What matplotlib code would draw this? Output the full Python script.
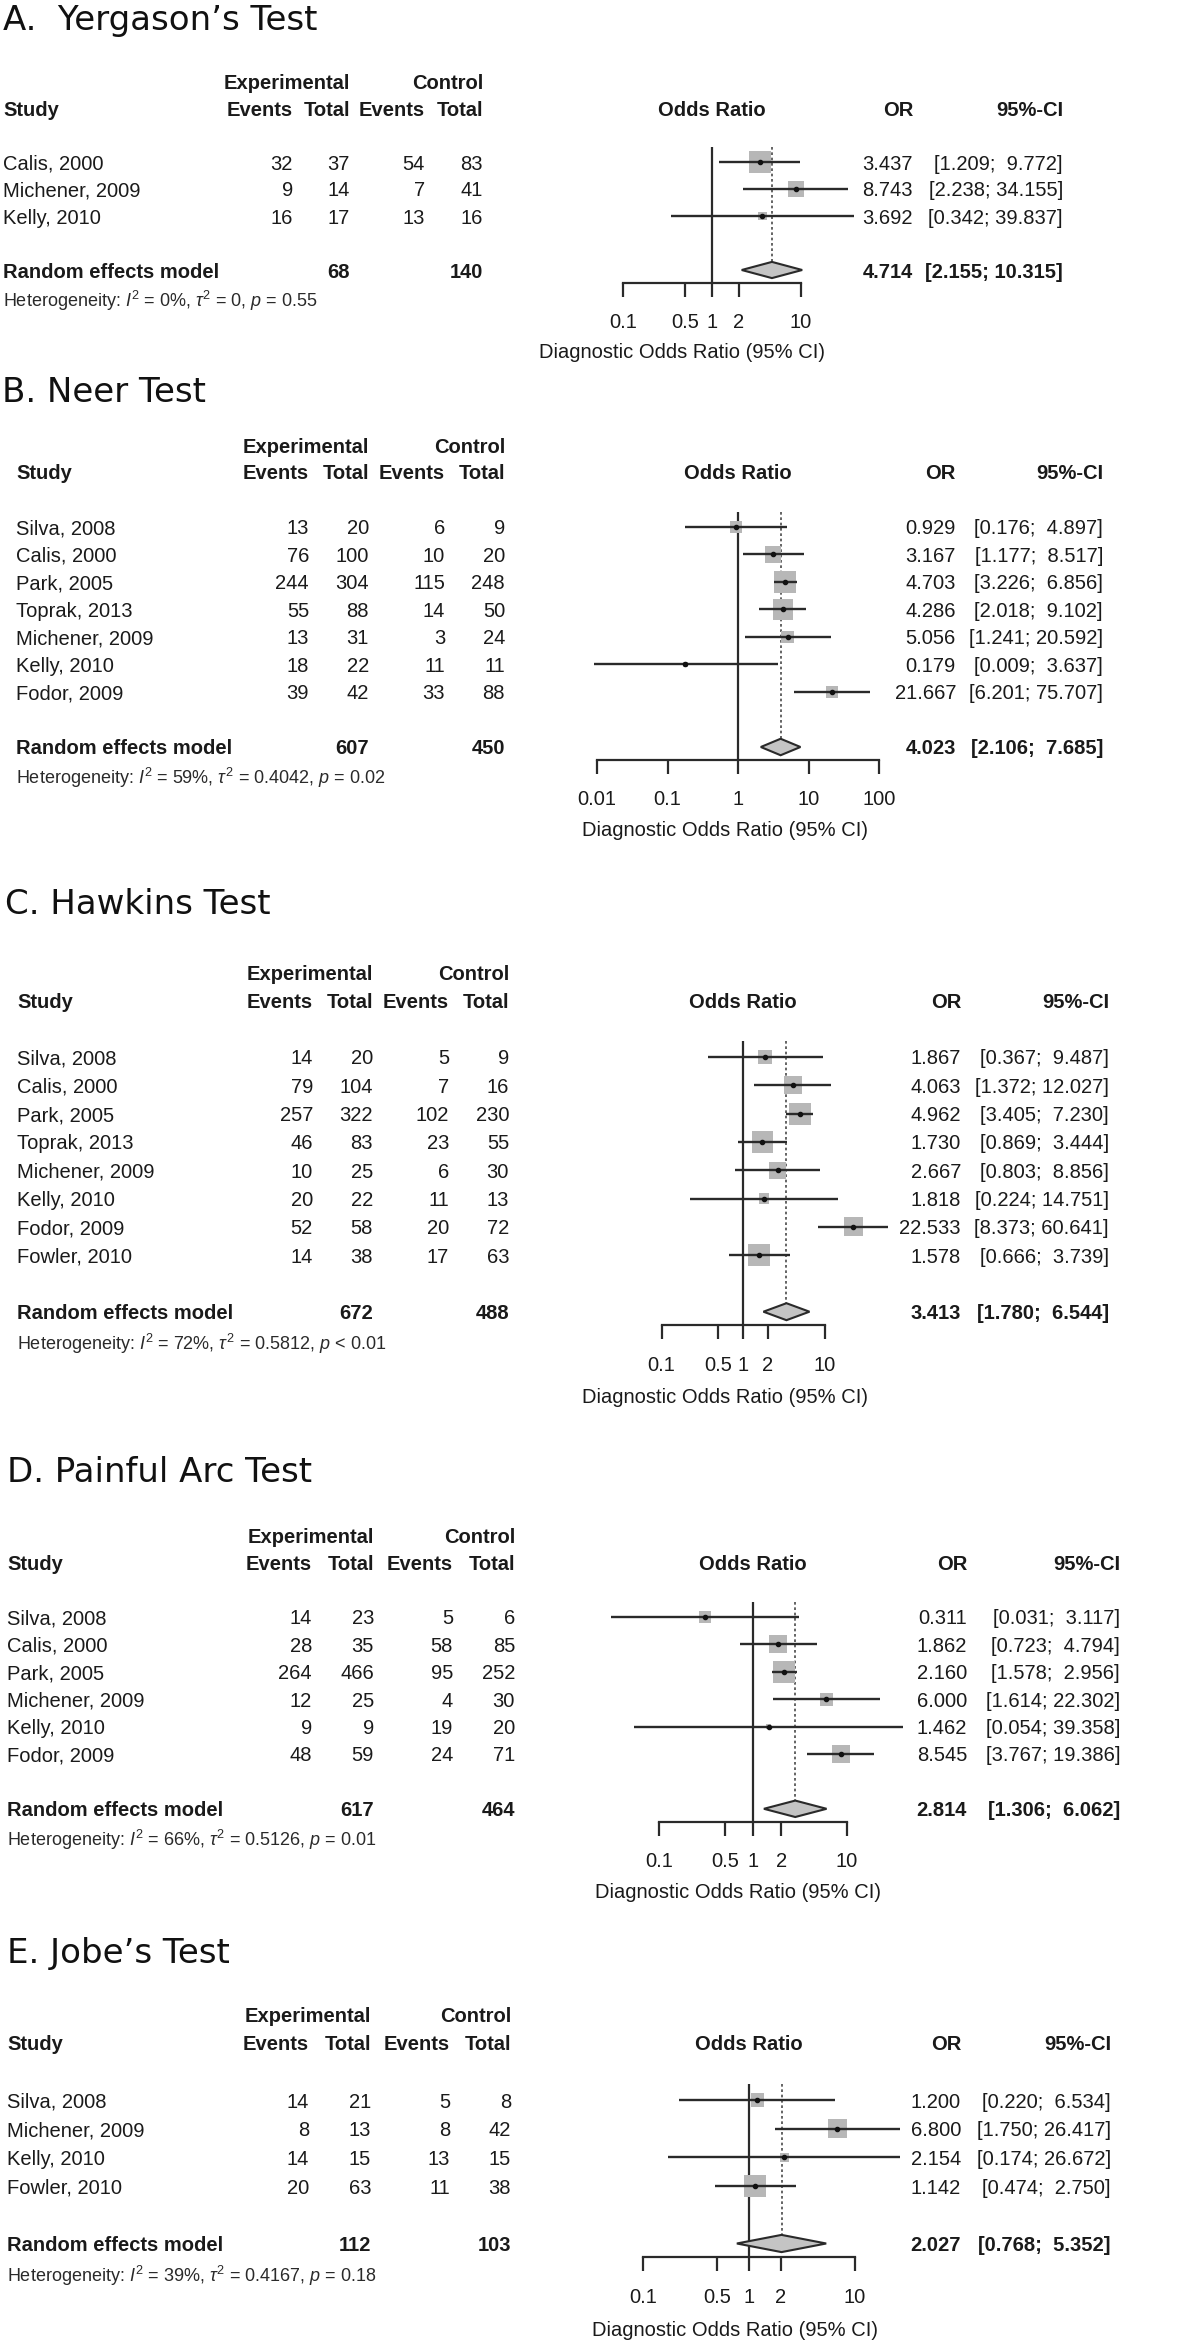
import matplotlib
matplotlib.use("Agg")
import matplotlib.pyplot as plt
import matplotlib.transforms as mtrans
from matplotlib.patches import Polygon
from matplotlib.ticker import NullLocator
import numpy as np

plt.rcParams['font.family'] = ['Liberation Sans', 'DejaVu Sans']
plt.rcParams['mathtext.fontset'] = 'custom'
plt.rcParams['mathtext.rm'] = 'Liberation Sans'
plt.rcParams['mathtext.it'] = 'Liberation Sans:italic'
plt.rcParams['mathtext.bf'] = 'Liberation Sans:bold'

# ---------------- DATA ----------------
# A. Yergason's Test
A_title = "A.  Yergason\u2019s Test"
A_studies = ["Calis, 2000", "Michener, 2009", "Kelly, 2010"]
A_exp_events = [32, 9, 16]
A_exp_total = [37, 14, 17]
A_ctl_events = [54, 7, 13]
A_ctl_total = [83, 41, 16]
A_or = [3.437, 8.743, 3.692]
A_lo = [1.209, 2.238, 0.342]
A_hi = [9.772, 34.155, 39.837]
A_weight = [59, 32, 9]
A_summary = [4.714, 2.155, 10.315]
A_totals = [68, 140]
A_het = ["0%", "0", "= 0.55"]
A_ticks = [0.1, 0.5, 1, 2, 10]
A_ticklabels = ["0.1", "0.5", "1", "2", "10"]

# B. Neer Test
B_title = "B. Neer Test"
B_studies = ["Silva, 2008", "Calis, 2000", "Park, 2005", "Toprak, 2013",
             "Michener, 2009", "Kelly, 2010", "Fodor, 2009"]
B_exp_events = [13, 76, 244, 55, 13, 18, 39]
B_exp_total = [20, 100, 304, 88, 31, 22, 42]
B_ctl_events = [6, 10, 115, 14, 3, 11, 33]
B_ctl_total = [9, 20, 248, 50, 24, 11, 88]
B_or = [0.929, 3.167, 4.703, 4.286, 5.056, 0.179, 21.667]
B_lo = [0.176, 1.177, 3.226, 2.018, 1.241, 0.009, 6.201]
B_hi = [4.897, 8.517, 6.856, 9.102, 20.592, 3.637, 75.707]
B_weight = [9, 16, 30, 25, 10, 1.5, 9]
B_summary = [4.023, 2.106, 7.685]
B_totals = [607, 450]
B_het = ["59%", "0.4042", "= 0.02"]
B_ticks = [0.01, 0.1, 1, 10, 100]
B_ticklabels = ["0.01", "0.1", "1", "10", "100"]

# C. Hawkins Test
C_title = "C. Hawkins Test"
C_studies = ["Silva, 2008", "Calis, 2000", "Park, 2005", "Toprak, 2013",
             "Michener, 2009", "Kelly, 2010", "Fodor, 2009", "Fowler, 2010"]
C_exp_events = [14, 79, 257, 46, 10, 20, 52, 14]
C_exp_total = [20, 104, 322, 83, 25, 22, 58, 38]
C_ctl_events = [5, 7, 102, 23, 6, 11, 20, 17]
C_ctl_total = [9, 16, 230, 55, 30, 13, 72, 63]
C_or = [1.867, 4.063, 4.962, 1.730, 2.667, 1.818, 22.533, 1.578]
C_lo = [0.367, 1.372, 3.405, 0.869, 0.803, 0.224, 8.373, 0.666]
C_hi = [9.487, 12.027, 7.230, 3.444, 8.856, 14.751, 60.641, 3.739]
C_weight = [8, 12, 18, 17, 11, 4, 13.5, 17]
C_summary = [3.413, 1.780, 6.544]
C_totals = [672, 488]
C_het = ["72%", "0.5812", "< 0.01"]
C_ticks = [0.1, 0.5, 1, 2, 10]
C_ticklabels = ["0.1", "0.5", "1", "2", "10"]

# D. Painful Arc Test
D_title = "D. Painful Arc Test"
D_studies = ["Silva, 2008", "Calis, 2000", "Park, 2005", "Michener, 2009",
             "Kelly, 2010", "Fodor, 2009"]
D_exp_events = [14, 28, 264, 12, 9, 48]
D_exp_total = [23, 35, 466, 25, 9, 59]
D_ctl_events = [5, 58, 95, 4, 19, 24]
D_ctl_total = [6, 85, 252, 30, 20, 71]
D_or = [0.311, 1.862, 2.160, 6.000, 1.462, 8.545]
D_lo = [0.031, 0.723, 1.578, 1.614, 0.054, 3.767]
D_hi = [3.117, 4.794, 2.956, 22.302, 39.358, 19.386]
D_weight = [10, 22, 33, 11.5, 1.7, 22]
D_summary = [2.814, 1.306, 6.062]
D_totals = [617, 464]
D_het = ["66%", "0.5126", "= 0.01"]
D_ticks = [0.1, 0.5, 1, 2, 10]
D_ticklabels = ["0.1", "0.5", "1", "2", "10"]

# E. Jobe's Test
E_title = "E. Jobe\u2019s Test"
E_studies = ["Silva, 2008", "Michener, 2009", "Kelly, 2010", "Fowler, 2010"]
E_exp_events = [14, 8, 14, 20]
E_exp_total = [21, 13, 15, 63]
E_ctl_events = [5, 8, 13, 11]
E_ctl_total = [8, 42, 15, 38]
E_or = [1.200, 6.800, 2.154, 1.142]
E_lo = [0.220, 1.750, 0.174, 0.474]
E_hi = [6.534, 26.417, 26.672, 2.750]
E_weight = [16, 32, 7, 45]
E_summary = [2.027, 0.768, 5.352]
E_totals = [112, 103]
E_het = ["39%", "0.4167", "= 0.18"]
E_ticks = [0.1, 0.5, 1, 2, 10]
E_ticklabels = ["0.1", "0.5", "1", "2", "10"]

# ---------------- LAYOUT (pixels) ----------------
W, H = 1200, 2350
LAYOUT = {
    "A": dict(tx=3, tb=30, r0=162, rh=27.0, sx=3, cols=[293, 350, 425, 483],
              orx=913, cix=1063, one=712, dec=89, xlx=682),
    "B": dict(tx=2, tb=402, r0=527, rh=27.5, sx=16, cols=[309, 369, 445, 505],
              orx=956, cix=1103, one=738, dec=70.5, xlx=725),
    "C": dict(tx=5, tb=914, r0=1057, rh=28.3, sx=17, cols=[313, 373, 449, 509],
              orx=961, cix=1109, one=743, dec=81.5, xlx=725),
    "D": dict(tx=7, tb=1482, r0=1617, rh=27.4, sx=7, cols=[312, 374, 453, 515],
              orx=967, cix=1120, one=753, dec=94, xlx=738),
    "E": dict(tx=7, tb=1963, r0=2100, rh=28.7, sx=7, cols=[309, 371, 450, 511],
              orx=961, cix=1111, one=749, dec=106, xlx=735),
}

PANELS = {
    "A": (A_title, A_studies, A_exp_events, A_exp_total, A_ctl_events, A_ctl_total,
          A_or, A_lo, A_hi, A_weight, A_summary, A_totals, A_het, A_ticks, A_ticklabels),
    "B": (B_title, B_studies, B_exp_events, B_exp_total, B_ctl_events, B_ctl_total,
          B_or, B_lo, B_hi, B_weight, B_summary, B_totals, B_het, B_ticks, B_ticklabels),
    "C": (C_title, C_studies, C_exp_events, C_exp_total, C_ctl_events, C_ctl_total,
          C_or, C_lo, C_hi, C_weight, C_summary, C_totals, C_het, C_ticks, C_ticklabels),
    "D": (D_title, D_studies, D_exp_events, D_exp_total, D_ctl_events, D_ctl_total,
          D_or, D_lo, D_hi, D_weight, D_summary, D_totals, D_het, D_ticks, D_ticklabels),
    "E": (E_title, E_studies, E_exp_events, E_exp_total, E_ctl_events, E_ctl_total,
          E_or, E_lo, E_hi, E_weight, E_summary, E_totals, E_het, E_ticks, E_ticklabels),
}

TXT = '#1a1a1a'
LINE = '#2a2a2a'
BOX = '#b7b7b7'
FS = 14.5
TITLE_FS = 24.5
HET_FS = 13
AX_L, AX_R = 560, 918
TOP_IDX = -0.55
AXIS_OFF = 1.47
MAX_BOX = 22.0


def ci_str(lo, hi):
    return "[{:.3f}; {:>6}]".format(lo, "{:.3f}".format(hi))


fig = plt.figure(figsize=(W / 100, H / 100), dpi=100)
fig.patch.set_facecolor('white')


def draw_panel(key):
    (title, studies, ee, et, ce, ct, ors, los, his, wts, summ, totals, het,
     ticks, ticklabels) = PANELS[key]
    L = LAYOUT[key]
    n = len(studies)
    r0, rh = L["r0"], L["rh"]
    axis_idx = n + AXIS_OFF
    axis_px = r0 + axis_idx * rh
    top_px = r0 + TOP_IDX * rh

    ax = fig.add_axes([AX_L / W, 1 - axis_px / H, (AX_R - AX_L) / W,
                       (axis_px - top_px) / H])
    ax.set_xscale('log')
    ax.set_xlim(10 ** ((AX_L - L["one"]) / L["dec"]), 10 ** ((AX_R - L["one"]) / L["dec"]))
    ax.set_ylim(axis_idx, TOP_IDX)
    ax.patch.set_alpha(0)
    for s in ('top', 'left', 'right'):
        ax.spines[s].set_visible(False)
    ax.spines['bottom'].set_bounds(ticks[0], ticks[-1])
    ax.spines['bottom'].set_linewidth(1.6)
    ax.spines['bottom'].set_color(LINE)
    ax.set_xticks(ticks)
    ax.set_xticklabels(ticklabels)
    ax.xaxis.set_minor_locator(NullLocator())
    ax.tick_params(axis='x', length=10, width=1.6, color=LINE, pad=12,
                   labelsize=FS, labelcolor=TXT)
    ax.set_yticks([])

    rows = np.arange(n)
    ors = np.array(ors)
    ax.axvline(1, color=LINE, lw=1.6, zorder=1)
    dh = 0.3
    ax.vlines(summ[0], TOP_IDX, n + 1 - dh, colors='#4a4a4a', lw=1.2,
              linestyles=(0, (1.6, 1.6)), zorder=1)
    w = np.array(wts, dtype=float)
    side = MAX_BOX * np.sqrt(w / w.max())
    ax.scatter(ors, rows, s=(side * 0.72) ** 2, marker='s', color=BOX,
               edgecolors='none', zorder=2, clip_on=False)
    ax.hlines(rows, los, his, colors=LINE, lw=1.7, zorder=3, clip_on=False)
    ax.scatter(ors, rows, s=9, marker='o', color='#111111', zorder=4, clip_on=False)
    est, lo, hi = summ
    yd = n + 1
    ax.add_patch(Polygon([(lo, yd), (est, yd - dh), (hi, yd), (est, yd + dh)],
                         closed=True, facecolor='#c4c4c4', edgecolor=LINE,
                         lw=1.5, zorder=3, clip_on=False))

    tr = mtrans.blended_transform_factory(fig.transFigure, ax.transData)
    fx = lambda px: px / W

    fig.text(fx(L["tx"]), 1 - L["tb"] / H, title, fontsize=TITLE_FS,
             family=['DejaVu Sans'], color='#111111', va='baseline', ha='left')

    hdr = dict(fontsize=FS, fontweight='bold', color=TXT, va='center_baseline',
               transform=tr)
    c = L["cols"]
    ax.text(fx(c[1]), -2.97, "Experimental", ha='right', **hdr)
    ax.text(fx(c[3]), -2.97, "Control", ha='right', **hdr)
    ax.text(fx(L["sx"]), -2, "Study", ha='left', **hdr)
    for cx, lab in zip(c, ["Events", "Total", "Events", "Total"]):
        ax.text(fx(cx), -2, lab, ha='right', **hdr)
    ax.text(1, -2, "Odds Ratio", ha='center', fontsize=FS, fontweight='bold',
            color=TXT, va='center_baseline')
    ax.text(fx(L["orx"]), -2, "OR", ha='right', **hdr)
    ax.text(fx(L["cix"]), -2, "95%-CI", ha='right', **hdr)

    body = dict(fontsize=FS, color=TXT, va='center_baseline', transform=tr)
    for i in range(n):
        ax.text(fx(L["sx"]), i, studies[i], ha='left', **body)
        for cx, v in zip(c, [ee[i], et[i], ce[i], ct[i]]):
            ax.text(fx(cx), i, str(v), ha='right', **body)
        ax.text(fx(L["orx"]), i, "{:.3f}".format(ors[i]), ha='right', **body)
        ax.text(fx(L["cix"]), i, ci_str(los[i], his[i]), ha='right', **body)

    ax.text(fx(L["sx"]), n + 1, "Random effects model", ha='left', **hdr)
    ax.text(fx(c[1]), n + 1, str(totals[0]), ha='right', **hdr)
    ax.text(fx(c[3]), n + 1, str(totals[1]), ha='right', **hdr)
    ax.text(fx(L["orx"]), n + 1, "{:.3f}".format(est), ha='right', **hdr)
    ax.text(fx(L["cix"]), n + 1, ci_str(lo, hi), ha='right', **hdr)

    het_txt = (r"Heterogeneity: $I^2$ = " + het[0] + r", $\tau^2$ = " + het[1]
               + r", $p$ " + het[2])
    ax.text(fx(L["sx"]), n + 2.03, het_txt, ha='left', fontsize=HET_FS,
            color='#2a2a2a', va='center_baseline', transform=tr)

    ax.text(fx(L["xlx"]), axis_idx + 2.5, "Diagnostic Odds Ratio (95% CI)",
            ha='center', fontsize=FS, color=TXT, va='center_baseline', transform=tr)


for k in ["A", "B", "C", "D", "E"]:
    draw_panel(k)

fig.savefig("out.png", dpi=100, facecolor='white')
